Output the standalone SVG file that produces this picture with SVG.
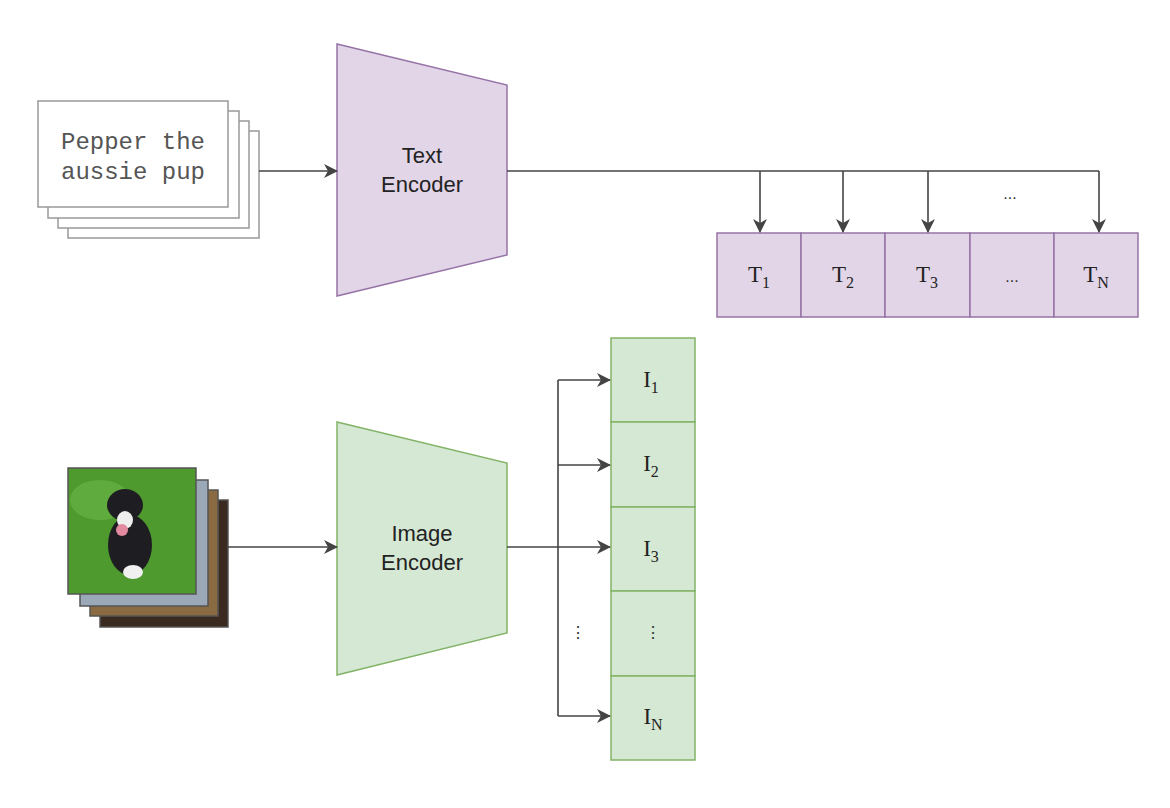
<svg xmlns="http://www.w3.org/2000/svg" width="1170" height="808" viewBox="0 0 1170 808">
<defs>
<marker id="ah" markerWidth="14" markerHeight="14" refX="13" refY="7" orient="auto" markerUnits="userSpaceOnUse">
<path d="M0,0 L14,7 L0,14 L4,7 Z" fill="#444"/>
</marker>
<clipPath id="c1"><rect x="68" y="468" width="128" height="126"/></clipPath>
</defs>
<style>
.card{fill:#fff;stroke:#999;stroke-width:1.5}
.mono{font-family:"Liberation Mono",monospace;font-size:24px;fill:#555}
.enc{font-family:"Liberation Sans",Arial,sans-serif;font-size:22px;fill:#222;text-anchor:middle}
.tp{fill:#e1d5e7;stroke:#9673a6;stroke-width:1.5}
.gr{fill:#d5e8d4;stroke:#82b366;stroke-width:1.5}
.lab{font-family:"Liberation Serif",serif;font-size:23px;fill:#222;text-anchor:middle}
.sub{font-size:16px}
.con{fill:none;stroke:#444;stroke-width:1.6}
.dots{font-family:"Liberation Sans",sans-serif;font-size:16px;fill:#333;text-anchor:middle}
</style>
<rect width="1170" height="808" fill="#fff"/>
<g id="text-input">
<rect class="card" x="68" y="131" width="191" height="107"/>
<rect class="card" x="58" y="121" width="191" height="107"/>
<rect class="card" x="48" y="111" width="191" height="107"/>
<rect class="card" x="38" y="101" width="190" height="106"/>
<text class="mono" x="133" y="149" text-anchor="middle">Pepper the</text>
<text class="mono" x="133" y="179" text-anchor="middle">aussie pup</text>
</g>
<g id="text-encoder">
<polygon class="tp" points="337,44 507,85 507,255 337,296"/>
<text class="enc" x="422" y="163">Text</text>
<text class="enc" x="422" y="192">Encoder</text>
</g>
<g id="text-tokens">
<rect class="tp" x="717" y="233" width="84" height="84"/>
<rect class="tp" x="801" y="233" width="84" height="84"/>
<rect class="tp" x="885" y="233" width="85" height="84"/>
<rect class="tp" x="970" y="233" width="84" height="84"/>
<rect class="tp" x="1054" y="233" width="84" height="84"/>
<text class="lab" x="759" y="282">T<tspan class="sub" dy="6">1</tspan></text>
<text class="lab" x="843" y="282">T<tspan class="sub" dy="6">2</tspan></text>
<text class="lab" x="927" y="282">T<tspan class="sub" dy="6">3</tspan></text>
<text class="dots" x="1012" y="282">...</text>
<text class="lab" x="1096" y="282">T<tspan class="sub" dy="6">N</tspan></text>
</g>
<g id="image-input">
<rect x="100" y="500" width="128" height="127" fill="#3a2a20" stroke="#555" stroke-width="1.5"/>
<rect x="90" y="490" width="128" height="126" fill="#8a6a40" stroke="#555" stroke-width="1.5"/>
<rect x="80" y="480" width="128" height="126" fill="#9aa8b8" stroke="#555" stroke-width="1.5"/>
<rect x="68" y="468" width="128" height="126" fill="#4e9a2e" stroke="#555" stroke-width="1.5"/>
<g clip-path="url(#c1)">
<ellipse cx="100" cy="500" rx="30" ry="20" fill="#6cb84a" opacity="0.6"/>
<ellipse cx="130" cy="545" rx="22" ry="30" fill="#1e1e22"/>
<ellipse cx="125" cy="505" rx="18" ry="16" fill="#1e1e22"/>
<ellipse cx="125" cy="520" rx="8" ry="9" fill="#eee"/>
<ellipse cx="122" cy="530" rx="6" ry="6" fill="#e48aa0"/>
<ellipse cx="133" cy="572" rx="10" ry="7" fill="#f0f0f0"/>
</g>
</g>
<g id="image-encoder">
<polygon class="gr" points="337,422 507,463 507,633 337,675"/>
<text class="enc" x="422" y="541">Image</text>
<text class="enc" x="422" y="570">Encoder</text>
</g>
<g id="image-tokens">
<rect class="gr" x="611" y="338" width="84" height="84"/>
<rect class="gr" x="611" y="422" width="84" height="85"/>
<rect class="gr" x="611" y="507" width="84" height="84"/>
<rect class="gr" x="611" y="591" width="84" height="85"/>
<rect class="gr" x="611" y="676" width="84" height="84"/>
<text class="lab" x="651" y="387">I<tspan class="sub" dy="6">1</tspan></text>
<text class="lab" x="651" y="471">I<tspan class="sub" dy="6">2</tspan></text>
<text class="lab" x="651" y="556">I<tspan class="sub" dy="6">3</tspan></text>
<text class="dots" x="653" y="638">⋮</text>
<text class="lab" x="653" y="724">I<tspan class="sub" dy="6">N</tspan></text>
</g>
<g id="connectors">
<line class="con" x1="259" y1="171" x2="337" y2="171" marker-end="url(#ah)"/>
<polyline class="con" points="507,171 1099,171"/>
<line class="con" x1="760" y1="171" x2="760" y2="232" marker-end="url(#ah)"/>
<line class="con" x1="843" y1="171" x2="843" y2="232" marker-end="url(#ah)"/>
<line class="con" x1="928" y1="171" x2="928" y2="232" marker-end="url(#ah)"/>
<line class="con" x1="1099" y1="171" x2="1099" y2="232" marker-end="url(#ah)"/>
<text class="dots" x="1010" y="199">...</text>
<line class="con" x1="228" y1="547" x2="337" y2="547" marker-end="url(#ah)"/>
<line class="con" x1="507" y1="547" x2="610" y2="547" marker-end="url(#ah)"/>
<line class="con" x1="558" y1="380" x2="558" y2="716"/>
<line class="con" x1="558" y1="380" x2="610" y2="380" marker-end="url(#ah)"/>
<line class="con" x1="558" y1="465" x2="610" y2="465" marker-end="url(#ah)"/>
<line class="con" x1="558" y1="716" x2="610" y2="716" marker-end="url(#ah)"/>
<text class="dots" x="578" y="638">⋮</text>
</g>
</svg>
